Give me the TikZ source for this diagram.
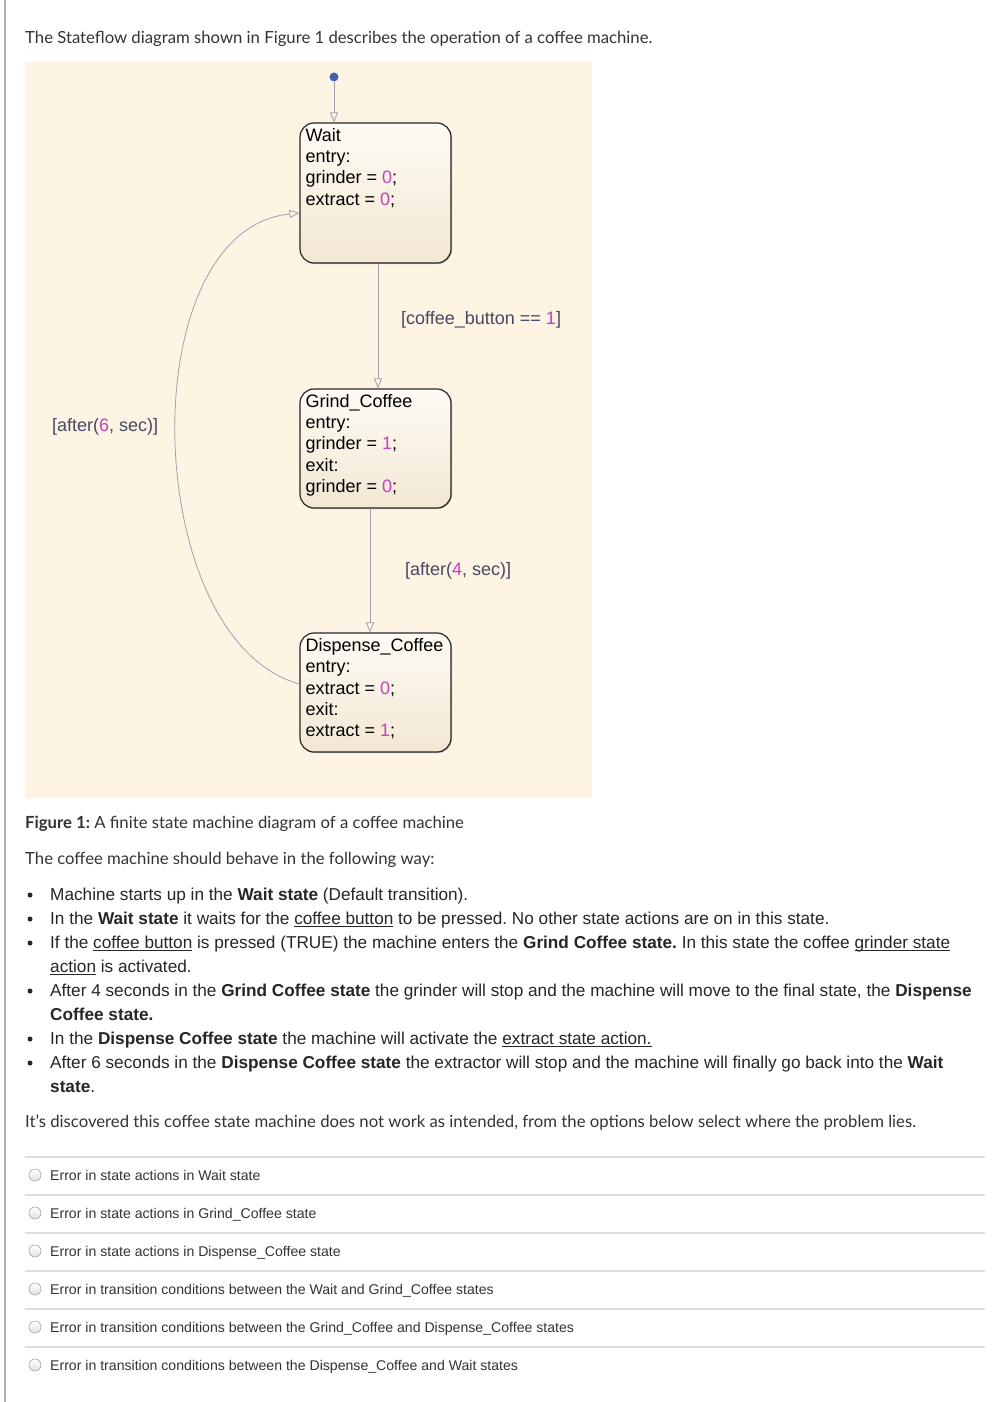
\documentclass[tikz,border=0pt]{standalone}
\usepackage{fontspec}
\setmainfont{Lato}
\newfontfamily\helv{Liberation Sans}
\usepackage{xcolor}
\usetikzlibrary{arrows.meta,positioning,shadows}
\definecolor{pagec}{RGB}{51,51,51}
\definecolor{chartc}{RGB}{253,244,228}
\definecolor{numc}{RGB}{196,64,190}
\definecolor{lblc}{RGB}{72,72,96}
\definecolor{wirec}{RGB}{160,160,172}
\definecolor{dotc}{RGB}{70,95,175}
\definecolor{rulec}{RGB}{221,221,221}
\newcommand{\nv}[1]{\textcolor{numc}{#1}}
\newsavebox{\udlbox}
\newcommand{\udl}[1]{\sbox{\udlbox}{#1}\rlap{\rule[-2.8pt]{\wd\udlbox}{1pt}}\usebox{\udlbox}}
\frenchspacing
\begin{document}
\begin{tikzpicture}[x=1pt, y=-1pt,
  every node/.style={inner sep=0pt, text=pagec},
  state/.style={draw=black!85, line width=1.2pt, rounded corners=14pt, minimum width=151pt,
    top color={rgb,255:red,254;green,251;blue,244}, bottom color={rgb,255:red,242;green,231;blue,211},
    drop shadow={shadow xshift=1pt, shadow yshift=-1pt, opacity=0.45}},
  stxt/.style={anchor=north west, align=left, font=\helv\fontsize{18}{21.3}\selectfont, text=black},
  trans/.style={draw=wirec, line width=0.8pt, -{Triangle[open, length=10pt, width=8pt]}},
  guard/.style={anchor=base west, font=\helv\fontsize{18}{21}\selectfont, text=lblc},
  body/.style={anchor=base west, font=\fontsize{16.7}{20}\selectfont},
  item/.style={anchor=base west, font=\helv\fontsize{17.2}{20}\selectfont, text=black!85},
  opt/.style={anchor=base west, font=\helv\fontsize{14.1}{17}\selectfont},
  bul/.style={circle, fill=black!85, minimum size=5pt},
  radio/.style={circle, draw=black!35, line width=0.6pt, top color=white, bottom color=black!12, minimum size=12pt}]
  \useasboundingbox[fill=white] (0,0) rectangle (1000,1402);
  \draw[line width=2pt, black!30] (4.5,0) -- (4.5,1402);
  \node[body] (intro) at (25,44) {The Stateflow diagram shown in Figure 1 describes the operation of a coffee machine.};

  % chart
  \fill[chartc] (25,62) rectangle (592,798);
  \node[state, minimum height=140pt] (wait) at (375.5,193) {};
  \node[state, minimum height=119pt] (grind) at (375.5,448.5) {};
  \node[state, minimum height=119pt] (disp) at (375.5,692.5) {};
  \node[stxt] (waitt) at ([xshift=6pt, yshift=-5.5pt]wait.north west) {Wait\\entry:\\grinder = \nv{0};\\extract = \nv{0};};
  \node[stxt] (grindt) at ([xshift=6pt, yshift=-5.5pt]grind.north west) {Grind\_Coffee\\entry:\\grinder = \nv{1};\\exit:\\grinder = \nv{0};};
  \node[stxt] (dispt) at ([xshift=6pt, yshift=-6pt]disp.north west) {Dispense\_Coffee\\entry:\\extract = \nv{0};\\exit:\\extract = \nv{1};};
  \node[circle, fill=dotc, minimum size=9pt] (init) at (334,77) {};
  \draw[trans] (init) -- (init |- wait.north);
  \draw[trans] ([xshift=2.5pt]wait.south) -- ([xshift=2.5pt]grind.north);
  \draw[trans] ([xshift=-5.5pt]grind.south) -- ([xshift=-5.5pt]disp.north);
  \draw[trans] ([yshift=8.5pt]disp.west) .. controls (140,640) and (130,230) .. ([yshift=-20pt]wait.west);
  \node[guard] (g1) at (401,324) {[coffee\_button == \nv{1}]};
  \node[guard] (g2) at (405,575) {[after(\nv{4}, sec)]};
  \node[guard] (g3) at (52,431) {[after(\nv{6}, sec)]};

  \node[body] (cap) at (25,828) {\textbf{Figure 1:} A finite state machine diagram of a coffee machine};
  \node[body] (behave) at (25,864) {The coffee machine should behave in the following way:};

  % behaviour list
  \node[bul] (b1) at (30,895) {};
  \node[bul] (b2) at (30,919) {};
  \node[bul] (b3) at (30,943) {};
  \node[bul] (b4) at (30,991) {};
  \node[bul] (b5) at (30,1039) {};
  \node[bul] (b6) at (30,1063) {};
  \node[item] (i1) at (50,900) {Machine starts up in the \textbf{Wait state} (Default transition).};
  \node[item] (i2) at (50,924) {In the \textbf{Wait state} it waits for the \udl{coffee button} to be pressed. No other state actions are on in this state.};
  \node[item] (i3) at (50,948) {If the \udl{coffee button} is pressed (TRUE) the machine enters the \textbf{Grind Coffee state.} In this state the coffee \udl{grinder state}};
  \node[item] (i3b) at (50,972) {\udl{action} is activated.};
  \node[item] (i4) at (50,996) {After 4 seconds in the \textbf{Grind Coffee state} the grinder will stop and the machine will move to the final state, the \textbf{Dispense}};
  \node[item] (i4b) at (50,1020) {\textbf{Coffee state.}};
  \node[item] (i5) at (50,1044) {In the \textbf{Dispense Coffee state} the machine will activate the \udl{extract state action.}};
  \node[item] (i6) at (50,1068) {After 6 seconds in the \textbf{Dispense Coffee state} the extractor will stop and the machine will finally go back into the \textbf{Wait}};
  \node[item] (i6b) at (50,1092) {\textbf{state}.};
  \node[body] (ask) at (25,1127) {It's discovered this coffee state machine does not work as intended, from the options below select where the problem lies.};

  % options
  \draw[line width=1.5pt, rulec] (25,1157) -- (985,1157);
  \draw[line width=1.5pt, rulec] (25,1195) -- (985,1195);
  \draw[line width=1.5pt, rulec] (25,1233) -- (985,1233);
  \draw[line width=1.5pt, rulec] (25,1271) -- (985,1271);
  \draw[line width=1.5pt, rulec] (25,1309) -- (985,1309);
  \draw[line width=1.5pt, rulec] (25,1347) -- (985,1347);
  \node[radio] (r1) at (35,1175) {};
  \node[radio] (r2) at (35,1213) {};
  \node[radio] (r3) at (35,1251) {};
  \node[radio] (r4) at (35,1289) {};
  \node[radio] (r5) at (35,1327) {};
  \node[radio] (r6) at (35,1365) {};
  \node[opt] (o1) at (50,1180) {Error in state actions in Wait state};
  \node[opt] (o2) at (50,1218) {Error in state actions in Grind\_Coffee state};
  \node[opt] (o3) at (50,1256) {Error in state actions in Dispense\_Coffee state};
  \node[opt] (o4) at (50,1294) {Error in transition conditions between the Wait and Grind\_Coffee states};
  \node[opt] (o5) at (50,1332) {Error in transition conditions between the Grind\_Coffee and Dispense\_Coffee states};
  \node[opt] (o6) at (50,1370) {Error in transition conditions between the Dispense\_Coffee and Wait states};
\end{tikzpicture}
\end{document}
